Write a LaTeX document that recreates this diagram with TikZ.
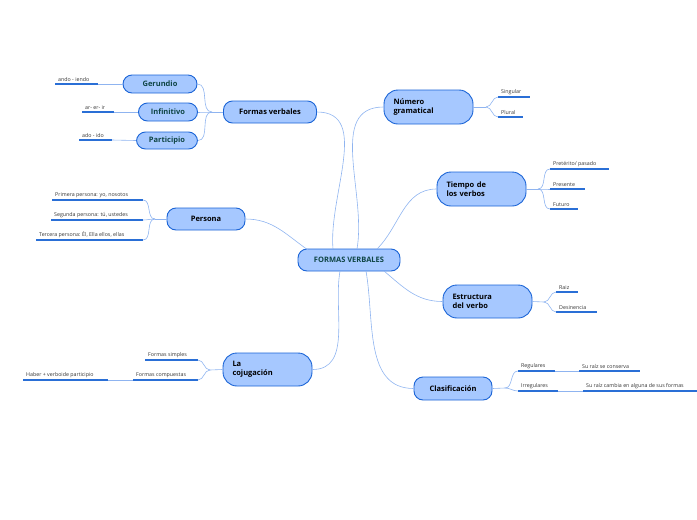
\documentclass[tikz,border=0pt]{standalone}
\usepackage{fontspec}
\setmainfont{Open Sans}
\begin{document}
\begin{tikzpicture}[x=1pt,y=-1pt,
  br/.style={draw=bd,fill=bf,line width=0.9pt,rounded corners=9pt,font=\fontsize{7.5}{9}\selectfont\bfseries,inner sep=0pt},
  con/.style={draw=lc,line width=0.6pt},
  leaf/.style={draw=ld,line width=1.1pt},
  lt/.style={font=\fontsize{5.3}{6}\selectfont,anchor=south west,inner sep=1pt,text=black!80}]
\definecolor{bf}{HTML}{A6C8FF}
\definecolor{bd}{HTML}{1A64D6}
\definecolor{lc}{HTML}{8FB4F0}
\definecolor{ld}{HTML}{2A6FD6}
\definecolor{tl}{HTML}{0F4545}
\useasboundingbox (0,0) rectangle (697,520);
% branch nodes
\node[br,minimum width=102pt,minimum height=22pt,text=tl] (c) at (349,260) {FORMAS VERBALES};
\node[br,minimum width=93pt,minimum height=22pt] (fv) at (270,112) {Formas verbales};
\node[br,minimum width=74pt,minimum height=18pt,text=tl] (ge) at (160,84) {Gerundio};
\node[br,minimum width=59pt,minimum height=18pt,text=tl] (in) at (168,112) {Infinitivo};
\node[br,minimum width=61pt,minimum height=17pt,text=tl] (pa) at (167,140.5) {Participio};
\node[br,minimum width=78pt,minimum height=22pt] (pe) at (206,219) {Persona};
\node[br,minimum width=89pt,minimum height=33pt,rounded corners=14pt,align=left,text width=70pt] (lc2) at (267.5,369.5) {La\\cojugación};
\node[br,minimum width=89pt,minimum height=34pt,rounded corners=14pt,align=left,text width=70pt] (ng) at (428.5,107) {Número\\gramatical};
\node[br,minimum width=89pt,minimum height=34pt,rounded corners=14pt,align=left,text width=70pt] (tv) at (481.5,189) {Tiempo de\\los verbos};
\node[br,minimum width=89pt,minimum height=33pt,rounded corners=14pt,align=left,text width=70pt] (ev) at (487.5,301.5) {Estructura\\del verbo};
\node[br,minimum width=78pt,minimum height=23pt] (cl) at (453,388.5) {Clasificación};
% main connectors
\draw[con] (fv.east) to[out=0,in=95] (333,249);
\draw[con] (pe.east) to[out=0,in=145] (308,250);
\draw[con] (lc2.east) to[out=0,in=-100] (340,271);
\draw[con] (ng.west) to[out=180,in=80] (357,249);
\draw[con] (tv.west) to[out=180,in=45] (377,249);
\draw[con] (ev.west) to[out=180,in=-40] (384,271);
\draw[con] (cl.west) to[out=180,in=-80] (366,271);
% Formas verbales children
\coordinate (fvj) at (212,112);
\draw[con] (fv.west) -- (fvj);
\foreach \n in {ge,in,pa} \draw[con] (fvj) to[out=180,in=0] (\n.east);
% leaves helper
\newcommand{\lf}[5]{% name, x1, x2, y, text
  \coordinate (#1a) at (#2,#4); \coordinate (#1b) at (#3,#4);
  \draw[leaf] (#1a) -- (#1b);
  \node[lt] (#1) at (#2+2,#4-1) {#5};}
\lf{l1}{55}{98}{84}{ando - iendo}
\lf{l2}{82}{114}{112}{ar- er- ir}
\lf{l3}{79}{112}{140}{ado - ido}
\draw[con] (l1b) -- (ge.west);
\draw[con] (l2b) -- (in.west);
\draw[con] (l3b) -- (pa.west);
% Persona
\lf{p1}{52}{143}{200}{Primera persona: yo, nosotos}
\lf{p2}{51}{143}{220}{Segunda persona: tú, ustedes}
\lf{p3}{36}{143}{240}{Tercera persona: Él, Ella ellos, ellas}
\coordinate (pej) at (155,219);
\draw[con] (pe.west) -- (pej);
\foreach \n in {p1,p2,p3} \draw[con] (pej) to[out=180,in=0] (\n b);
% La cojugacion
\lf{c1}{145}{198}{360}{Formas simples}
\lf{c2}{133}{198}{380}{Formas compuestas}
\lf{c3}{23}{108}{380}{Haber + verboide participio}
\coordinate (lcj) at (210,370);
\draw[con] (lc2.west) -- (lcj);
\foreach \n in {c1,c2} \draw[con] (lcj) to[out=180,in=0] (\n b);
\draw[con] (c3b) -- (c2a);
% Numero
\lf{n1}{498}{530}{97}{Singular}
\lf{n2}{498}{523}{117}{Plural}
\coordinate (ngj) at (486,107);
\draw[con] (ng.east) -- (ngj);
\foreach \n in {n1,n2} \draw[con] (ngj) to[out=0,in=180] (\n a);
% Tiempo
\lf{t1}{550}{609}{169}{Pretérito/ pasado}
\lf{t2}{550}{585}{189}{Presente}
\lf{t3}{550}{578}{209}{Futuro}
\coordinate (tvj) at (538,189);
\draw[con] (tv.east) -- (tvj);
\foreach \n in {t1,t2,t3} \draw[con] (tvj) to[out=0,in=180] (\n a);
% Estructura
\lf{e1}{556}{578}{292}{Raiz}
\lf{e2}{556}{597}{312}{Desinencia}
\coordinate (evj) at (544,302);
\draw[con] (ev.east) -- (evj);
\foreach \n in {e1,e2} \draw[con] (evj) to[out=0,in=180] (\n a);
% Clasificacion
\lf{k1}{518}{555}{371}{Regulares}
\lf{k2}{518}{558}{391}{Irregulares}
\lf{k3}{579}{640}{371}{Su raíz se conserva}
\lf{k4}{583}{697}{391}{Su raíz cambia en alguna de sus formas}
\coordinate (clj) at (505,388);
\draw[con] (cl.east) -- (clj);
\foreach \n in {k1,k2} \draw[con] (clj) to[out=0,in=180] (\n a);
\draw[con] (k1b) -- (k3a);
\draw[con] (k2b) -- (k4a);
\end{tikzpicture}
\end{document}
